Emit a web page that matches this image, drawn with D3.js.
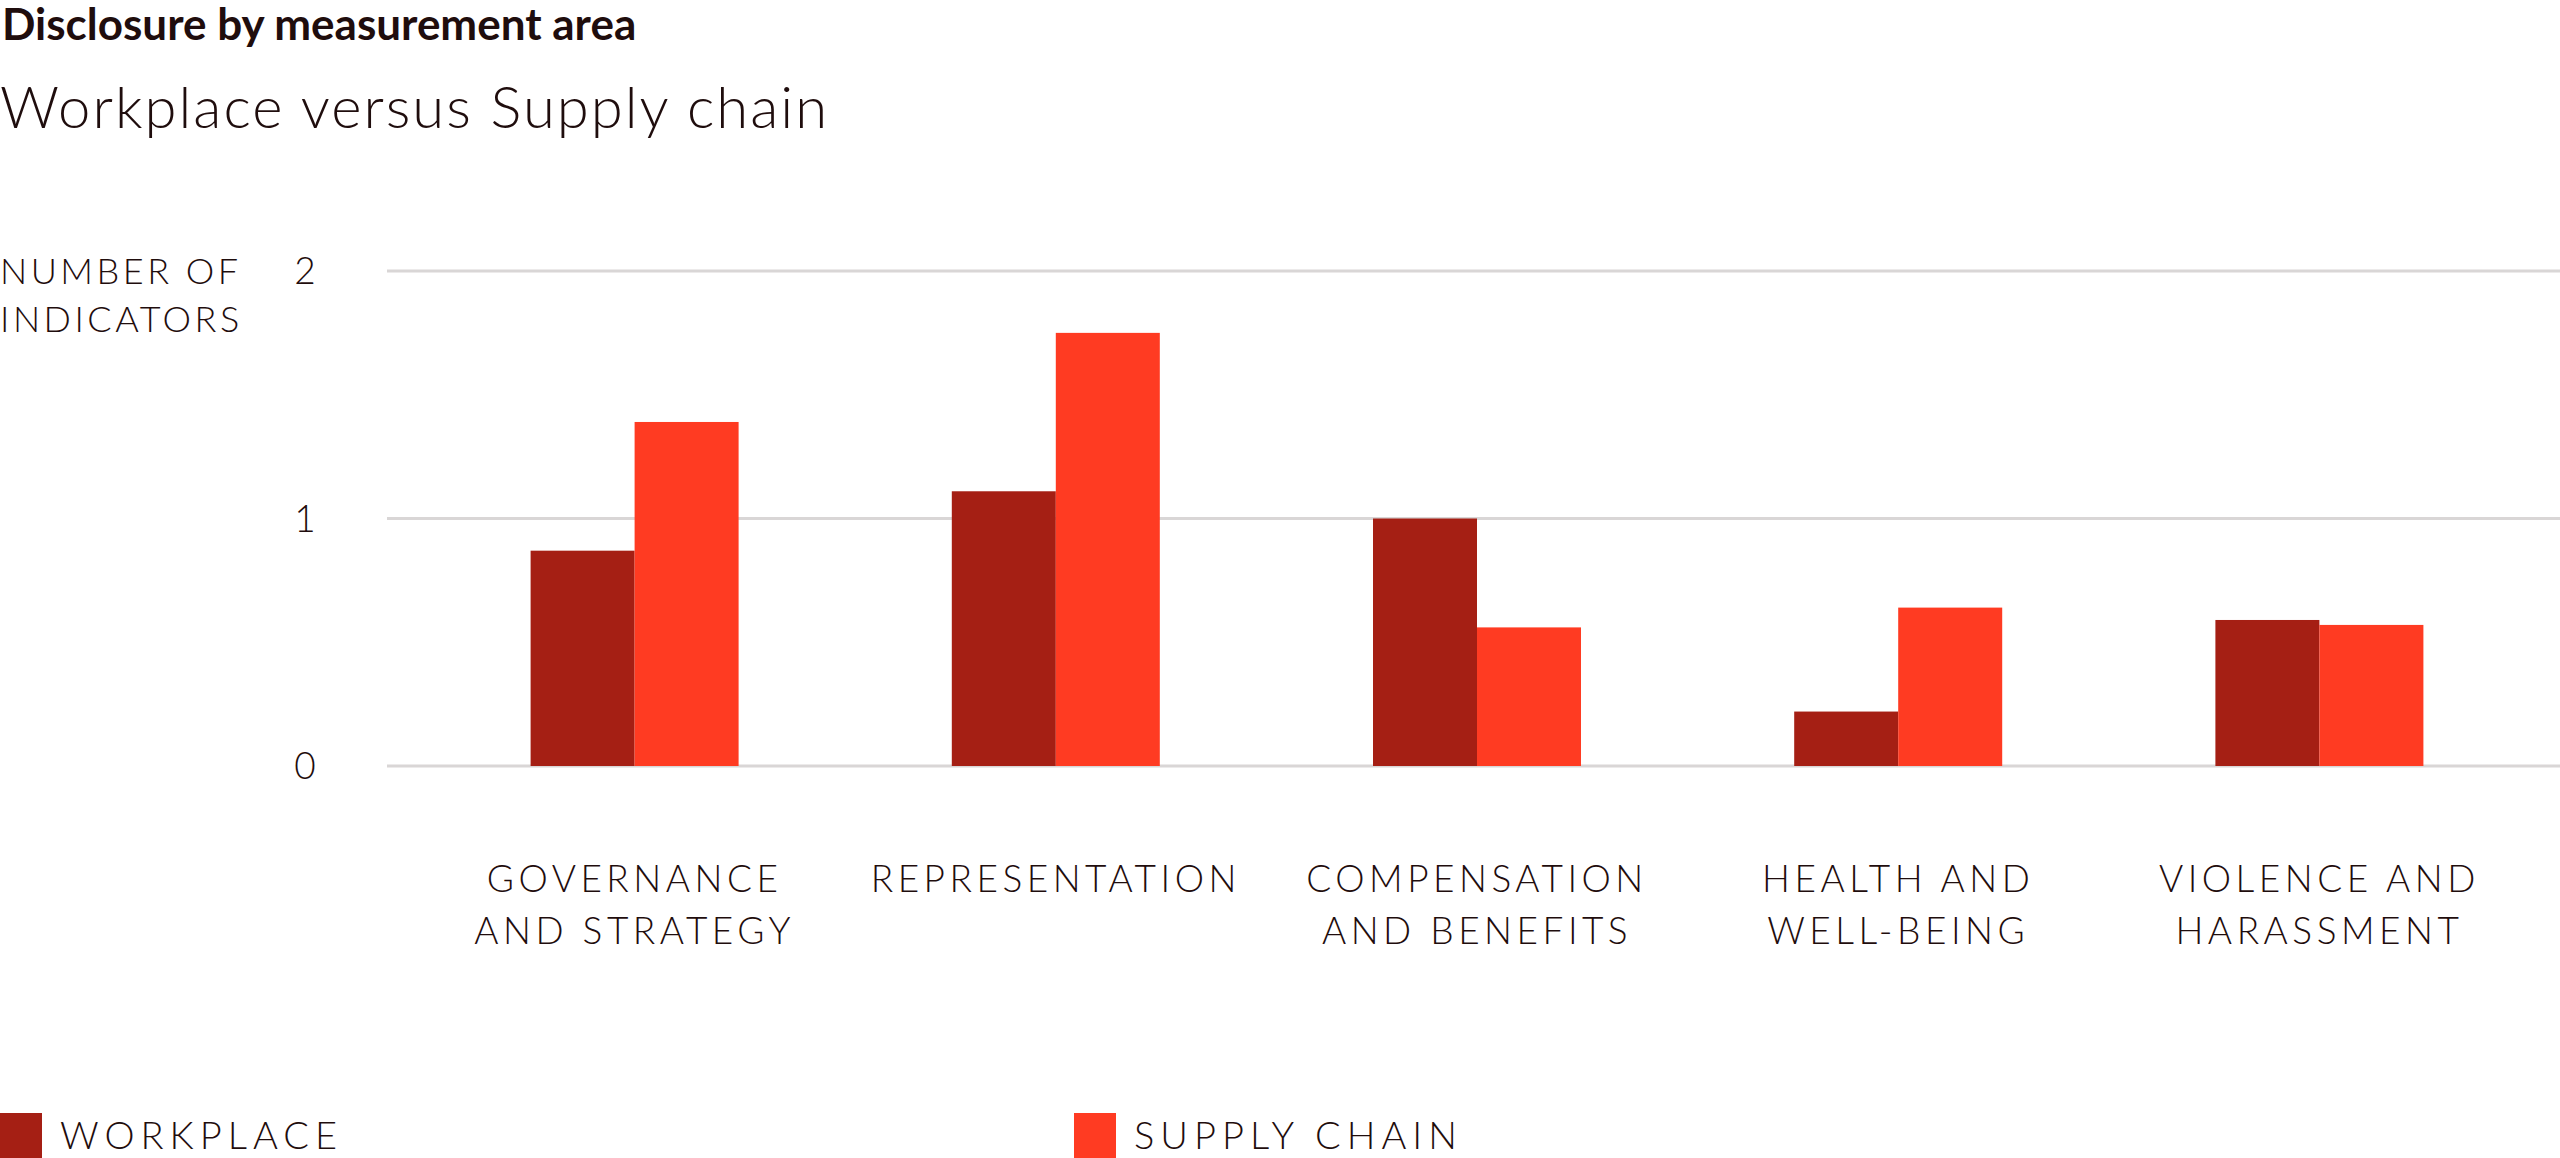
<!DOCTYPE html><html><head><meta charset="utf-8">
<script src="https://cdn.jsdelivr.net/npm/d3@7"></script>
<style>body{margin:0;background:#fff}text{font-family:Lato,"Open Sans",sans-serif;fill:#1f0d0d}</style></head><body>
<svg id="c" width="2560" height="1158"></svg>
<script>
const categories=[["GOVERNANCE","AND STRATEGY"],["REPRESENTATION"],["COMPENSATION","AND BENEFITS"],["HEALTH AND","WELL-BEING"],["VIOLENCE AND","HARASSMENT"]];
const workplace=[0.87,1.11,1.0,0.22,0.59];
const supplyChain=[1.39,1.75,0.56,0.64,0.57];
const yTicks=[0,1,2];
const series=[{name:"WORKPLACE",values:workplace,color:"#a51f14"},{name:"SUPPLY CHAIN",values:supplyChain,color:"#ff3b22"}];
const svg=d3.select("#c");
const x=d3.scaleBand().domain(d3.range(categories.length)).range([424,2530]);
const y=d3.scaleLinear().domain([0,2]).range([766,271]);
const bw=104;
svg.append("text").attr("x",2).attr("y",40).attr("font-size",44).attr("font-weight",700).text("Disclosure by measurement area");
svg.append("text").attr("x",0).attr("y",128).attr("font-size",58).attr("font-weight",300).attr("letter-spacing",2).text("Workplace versus Supply chain");
svg.selectAll(".g").data(yTicks).join("line").attr("x1",387).attr("x2",2560).attr("y1",d=>y(d)).attr("y2",d=>y(d)).attr("stroke","#d9d6d6").attr("stroke-width",3);
svg.selectAll(".yt").data(yTicks).join("text").attr("x",305).attr("y",d=>y(d)+13).attr("text-anchor","middle").attr("font-size",37).attr("font-weight",300).text(d=>d);
svg.append("text").attr("x",0).attr("y",284).attr("font-size",36).attr("font-weight",300).attr("letter-spacing",3.5).text("NUMBER OF");
svg.append("text").attr("x",0).attr("y",332).attr("font-size",36).attr("font-weight",300).attr("letter-spacing",3.5).text("INDICATORS");
series.forEach((s,si)=>{
 svg.selectAll(".b"+si).data(s.values).join("rect").attr("x",(d,i)=>x(i)+x.bandwidth()/2-bw+si*bw).attr("width",bw).attr("y",d=>y(d)).attr("height",d=>y(0)-y(d)).attr("fill",s.color);
});
categories.forEach((c,i)=>{
 const t=svg.append("text").attr("x",x(i)+x.bandwidth()/2).attr("y",892).attr("text-anchor","middle").attr("font-size",37).attr("font-weight",300).attr("letter-spacing",4.5);
 c.forEach((l,j)=>t.append("tspan").attr("x",x(i)+x.bandwidth()/2).attr("dy",j?52:0).text(l));
});
const lx=[0,1074];
series.forEach((s,i)=>{
 svg.append("rect").attr("x",lx[i]).attr("y",1113).attr("width",42).attr("height",45).attr("fill",s.color);
 svg.append("text").attr("x",lx[i]+60).attr("y",1149).attr("font-size",38).attr("font-weight",300).attr("letter-spacing",6).text(s.name);
});
</script></body></html>
